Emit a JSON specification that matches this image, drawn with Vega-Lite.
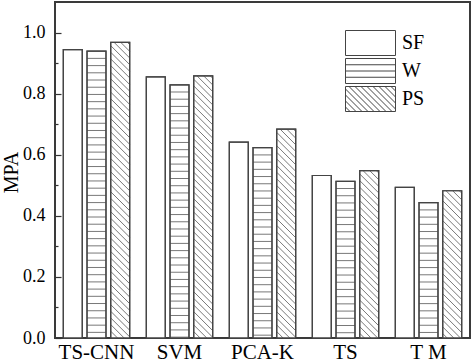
{
  "$schema": "https://vega.github.io/schema/vega-lite/v6.json",
  "width": 415,
  "height": 336,
  "autosize": {"type": "none"},
  "padding": {"left": 55, "top": 2, "right": 4, "bottom": 26},
  "background": "white",
  "config": {
    "view": {"stroke": "#3a3a3a", "strokeWidth": 2},
    "font": "Liberation Serif"
  },
  "data": {
    "values": [
      {"model": "TS-CNN", "series": "SF", "value": 0.944},
      {"model": "TS-CNN", "series": "W", "value": 0.939},
      {"model": "TS-CNN", "series": "PS", "value": 0.968},
      {"model": "SVM", "series": "SF", "value": 0.855},
      {"model": "SVM", "series": "W", "value": 0.829},
      {"model": "SVM", "series": "PS", "value": 0.858},
      {"model": "PCA-K", "series": "SF", "value": 0.641},
      {"model": "PCA-K", "series": "W", "value": 0.623},
      {"model": "PCA-K", "series": "PS", "value": 0.684},
      {"model": "TS", "series": "SF", "value": 0.532},
      {"model": "TS", "series": "W", "value": 0.513},
      {"model": "TS", "series": "PS", "value": 0.548},
      {"model": "T M", "series": "SF", "value": 0.493},
      {"model": "T M", "series": "W", "value": 0.443},
      {"model": "T M", "series": "PS", "value": 0.482}
    ]
  },
  "encoding": {
    "x": {
      "field": "model",
      "type": "nominal",
      "sort": ["TS-CNN", "SVM", "PCA-K", "TS", "T M"],
      "scale": {"paddingInner": 0.2, "paddingOuter": 0.1},
      "axis": {
        "title": null,
        "labelAngle": 0,
        "labelFont": "Liberation Serif",
        "labelFontSize": 21,
        "labelColor": "black",
        "labelPadding": 7,
        "tickSize": -4,
        "tickColor": "#333",
        "tickWidth": 1.2,
        "domain": false
      }
    },
    "xOffset": {
      "field": "series",
      "type": "nominal",
      "sort": ["SF", "W", "PS"],
      "scale": {"paddingInner": 0.2, "paddingOuter": 0}
    },
    "y": {
      "field": "value",
      "type": "quantitative",
      "scale": {"domain": [0, 1.1], "nice": false, "zero": true},
      "axis": {
        "values": [0, 0.1, 0.2, 0.3, 0.4, 0.5, 0.6, 0.7, 0.8, 0.9, 1.0],
        "labelExpr": "round(datum.value*10)%2==0 ? format(datum.value,'.1f') : ''",
        "labelFont": "Liberation Serif",
        "labelFontSize": 18,
        "labelColor": "black",
        "labelPadding": 16,
        "tickSize": {"condition": {"test": "round(datum.value*10)%2==1", "value": -3}, "value": -6},
        "tickColor": "#333",
        "tickWidth": 1.2,
        "grid": false,
        "domain": false,
        "title": "MPA",
        "titleFont": "Liberation Serif",
        "titleFontSize": 20,
        "titleFontWeight": "normal",
        "titleColor": "black",
        "titleX": -44,
        "titleY": 170,
        "titleAngle": 270,
        "titleAlign": "center",
        "titleBaseline": "middle"
      }
    }
  },
  "layer": [
    {
      "mark": {"type": "bar", "fill": "white", "stroke": "#444", "strokeWidth": 1.2}
    },
    {
      "transform": [{"filter": "datum.series == 'W'"}],
      "mark": {
        "type": "point",
        "clip": true,
        "filled": false,
        "size": 360,
        "stroke": "#555",
        "strokeWidth": 0.8,
        "opacity": 1,
        "shape": "M-1,0.76H1M-1,1.52H1M-1,2.28H1M-1,3.04H1M-1,3.8H1M-1,4.56H1M-1,5.32H1M-1,6.08H1M-1,6.84H1M-1,7.6H1M-1,8.36H1M-1,9.12H1M-1,9.88H1M-1,10.64H1M-1,11.4H1M-1,12.16H1M-1,12.92H1M-1,13.68H1M-1,14.44H1M-1,15.2H1M-1,15.96H1M-1,16.72H1M-1,17.48H1M-1,18.24H1M-1,19H1M-1,19.76H1M-1,20.52H1M-1,21.28H1M-1,22.04H1M-1,22.8H1M-1,23.56H1M-1,24.32H1M-1,25.08H1M-1,25.84H1M-1,26.6H1M-1,27.36H1M-1,28.12H1M-1,28.88H1M-1,29.64H1M-1,30.4H1M-1,31.16H1"
      }
    },
    {
      "transform": [{"filter": "datum.series == 'PS'"}],
      "mark": {
        "type": "point",
        "clip": true,
        "filled": false,
        "size": 360,
        "stroke": "#555",
        "strokeWidth": 0.8,
        "opacity": 1,
        "shape": "M0.75,0L1,0.25M0.05,0L1,0.95M-0.65,0L1,1.65M-1,0.35L1,2.35M-1,1.05L1,3.05M-1,1.75L1,3.75M-1,2.45L1,4.45M-1,3.15L1,5.15M-1,3.85L1,5.85M-1,4.55L1,6.55M-1,5.25L1,7.25M-1,5.95L1,7.95M-1,6.65L1,8.65M-1,7.35L1,9.35M-1,8.05L1,10.05M-1,8.75L1,10.75M-1,9.45L1,11.45M-1,10.15L1,12.15M-1,10.85L1,12.85M-1,11.55L1,13.55M-1,12.25L1,14.25M-1,12.95L1,14.95M-1,13.65L1,15.65M-1,14.35L1,16.35M-1,15.05L1,17.05M-1,15.75L1,17.75M-1,16.45L1,18.45M-1,17.15L1,19.15M-1,17.85L1,19.85M-1,18.55L1,20.55M-1,19.25L1,21.25M-1,19.95L1,21.95M-1,20.65L1,22.65M-1,21.35L1,23.35M-1,22.05L1,24.05M-1,22.75L1,24.75M-1,23.45L1,25.45M-1,24.15L1,26.15M-1,24.85L1,26.85M-1,25.55L1,27.55M-1,26.25L1,28.25M-1,26.95L1,28.95M-1,27.65L1,29.65M-1,28.35L1,30.35M-1,29.05L1,31.05M-1,29.75L1,31.75M-1,30.45L1,32.45M-1,31.15L1,33.15"
      }
    },
    {
      "mark": {"type": "bar", "fill": null, "fillOpacity": 0, "stroke": "#444", "strokeWidth": 1.2}
    },
    {
      "mark": {"type": "point", "opacity": 0, "filled": false},
      "encoding": {
        "shape": {
          "field": "series",
          "type": "nominal",
          "scale": {
            "domain": ["SF", "W", "PS"],
            "range": [
              "M-2,-1H2V1H-2Z",
              "M-2,-1H2V1H-2ZM-2,-0.5H2M-2,0H2M-2,0.5H2",
              "M-2,-1H2V1H-2ZM-2,0.64L-1.64,1M-2,0.16L-1.16,1M-2,-0.32L-0.68,1M-2,-0.8L-0.2,1M-1.72,-1L0.28,1M-1.24,-1L0.76,1M-0.76,-1L1.24,1M-0.28,-1L1.72,1M0.2,-1L2,0.8M0.68,-1L2,0.32M1.16,-1L2,-0.16M1.64,-1L2,-0.64"
            ]
          },
          "legend": {
            "orient": "none",
            "legendX": 302.5,
            "legendY": 28,
            "title": null,
            "symbolSize": 625,
            "symbolStrokeColor": "#444",
            "symbolFillColor": "white",
            "symbolStrokeWidth": 1,
            "symbolOpacity": 1,
            "labelFont": "Liberation Serif",
            "labelFontSize": 20,
            "labelColor": "black",
            "labelOffset": 18.5,
            "rowPadding": -2
          }
        }
      }
    }
  ]
}
